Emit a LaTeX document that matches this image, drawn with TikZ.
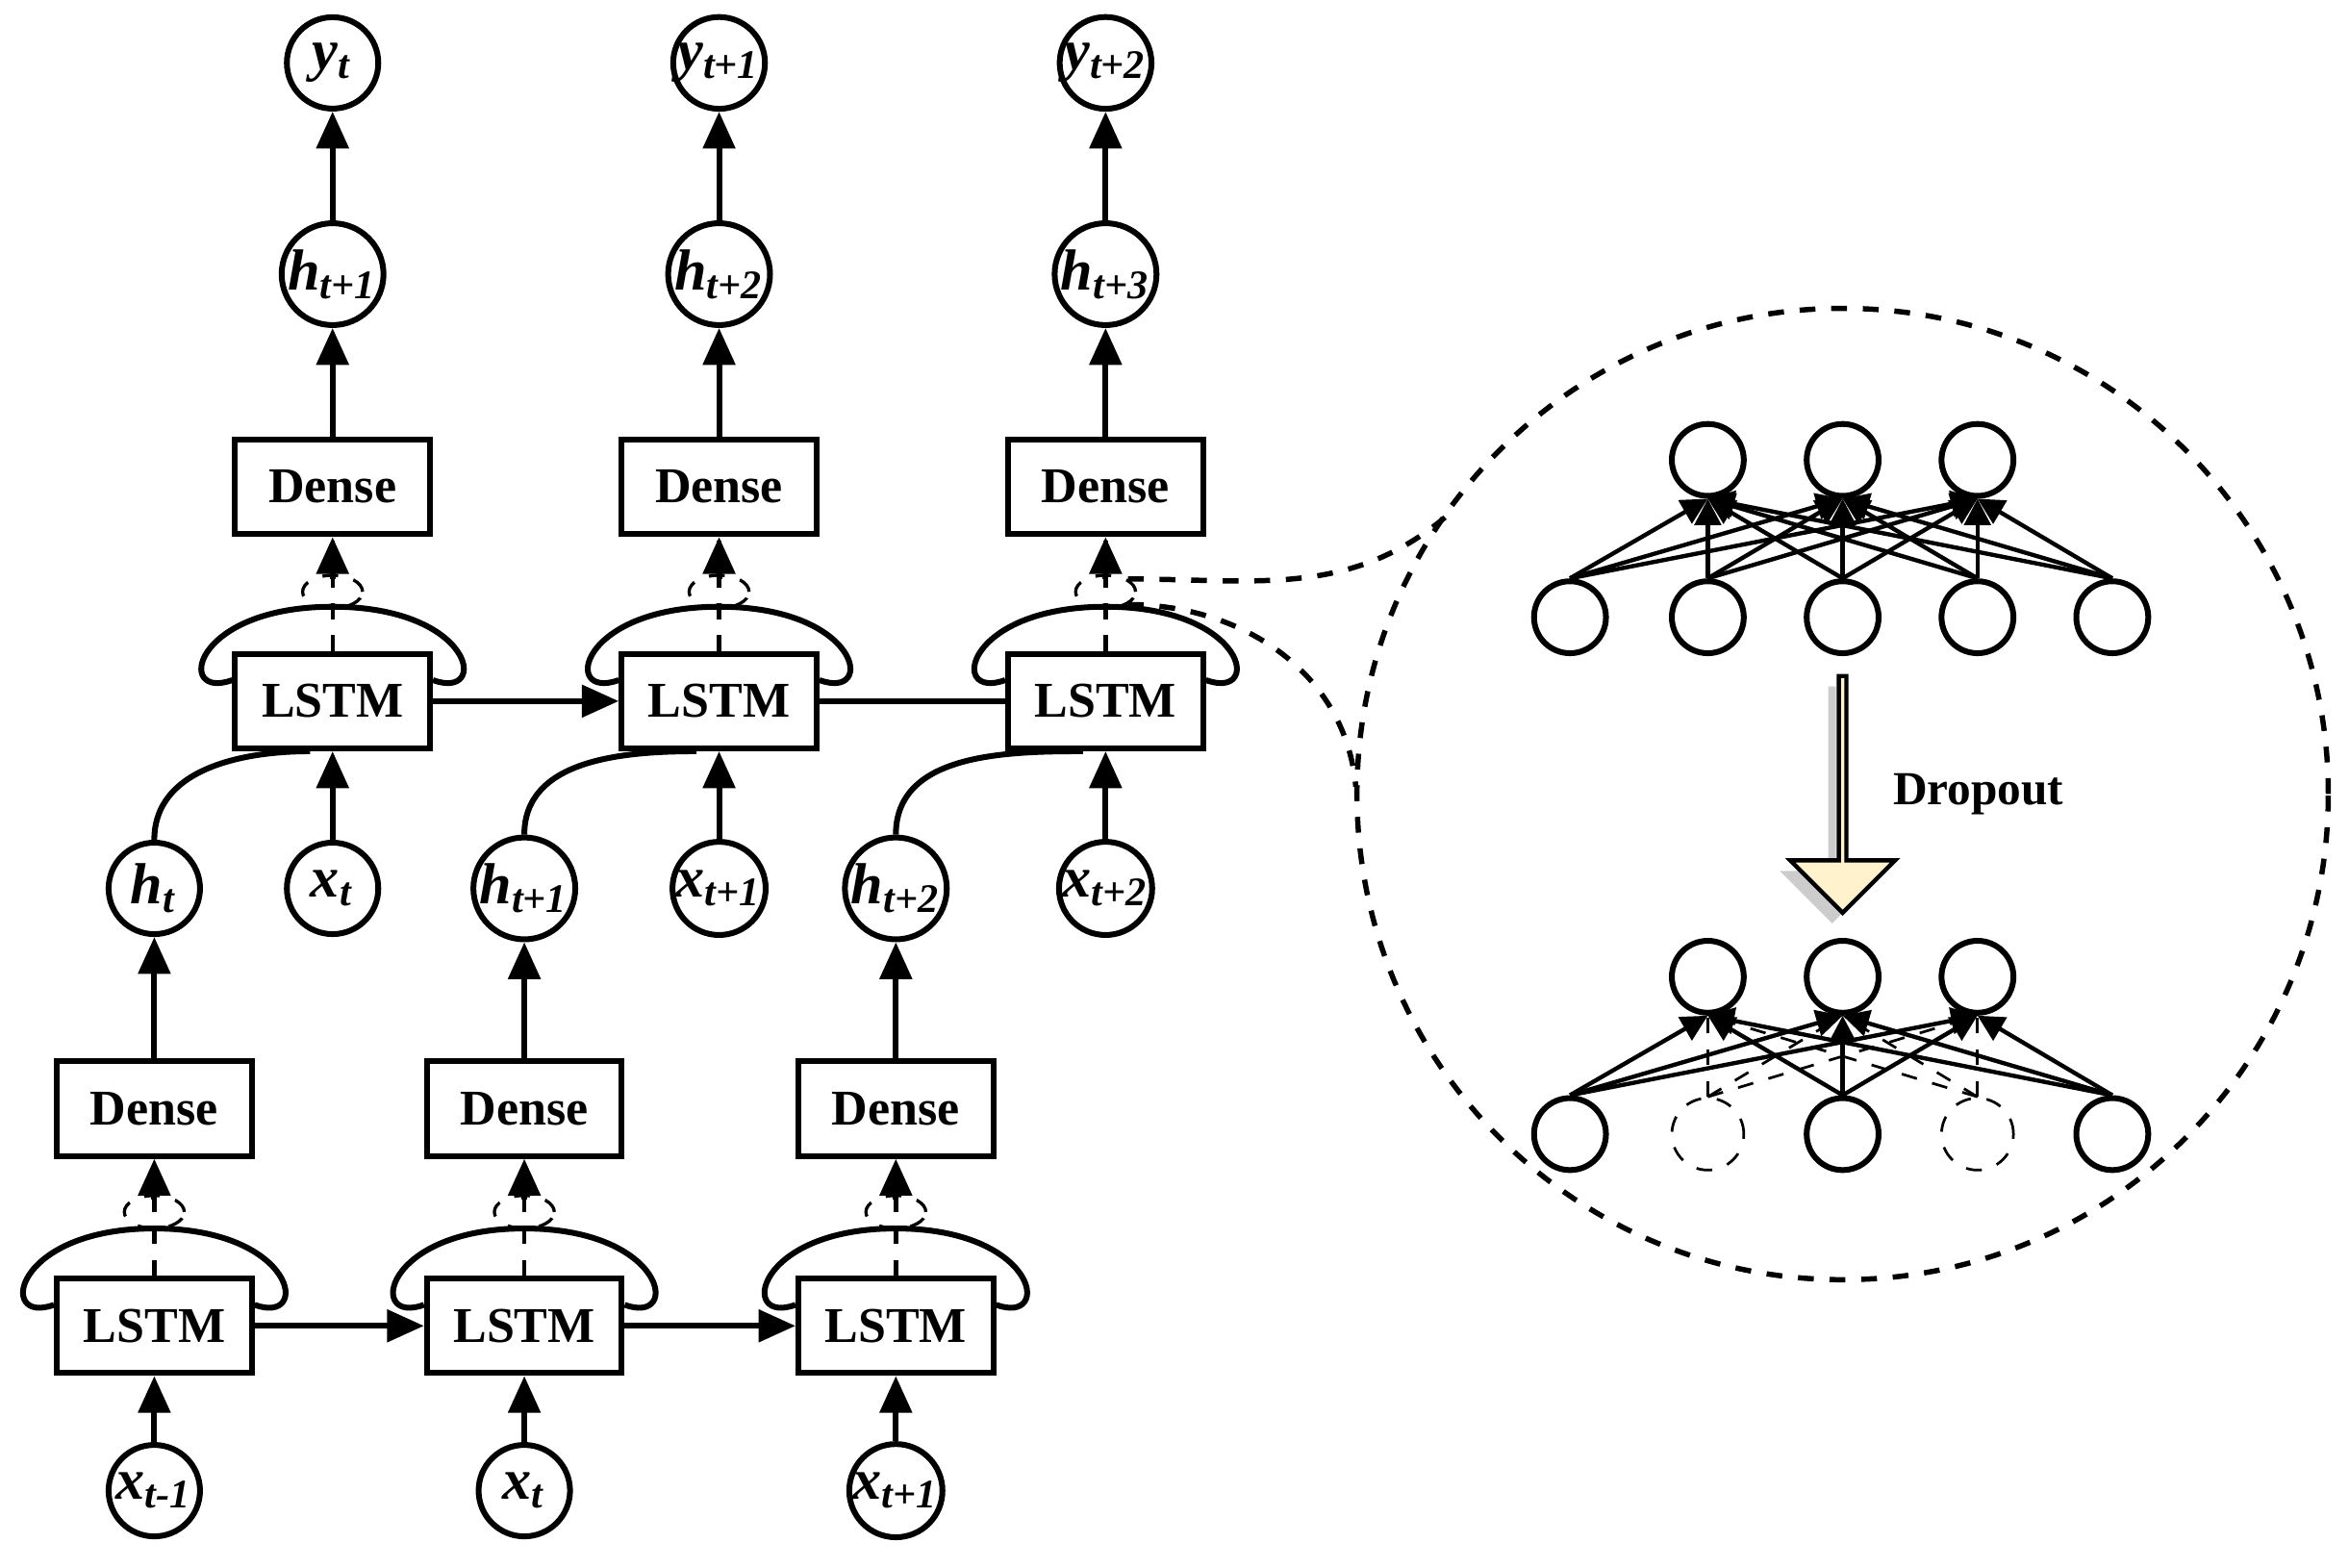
\documentclass[tikz,border=0pt]{standalone}
\usepackage{fontspec}
\setmainfont{Liberation Serif}
\usetikzlibrary{arrows.meta,shapes.geometric,shapes.arrows,shadows}
\newcommand{\lab}[2]{\textbf{\textit{#1}\textsubscript{\textit{#2}}}}
\begin{document}
\begin{tikzpicture}[x=0.01cm,y=-0.01cm,
    line width=1.1pt, >={Triangle[length=7pt,width=6pt]},
    box/.style={draw, minimum width=1.3cm, minimum height=0.63cm, font=\bfseries\fontsize{9.5}{10}\selectfont, fill=white},
    var/.style={draw, circle, minimum size=0.61cm, inner sep=0pt, font=\fontsize{11}{12}\selectfont, fill=white},
    drop/.style={draw, dashed, ellipse, line width=0.6pt, minimum width=0.4cm, minimum height=0.22cm, inner sep=0pt},
    unit/.style={draw, circle, minimum size=0.48cm, inner sep=0pt, fill=white},
    ghost/.style={draw, circle, dashed, line width=0.5pt, minimum size=0.48cm, inner sep=0pt}]
\useasboundingbox (0,0) rectangle (1568,1046);
% upper stack
\foreach \i/\x/\hy/\hh/\xx/\yy/\hc in {1/222/t+1/t/t/t/103, 2/480/t+2/t+1/t+1/t+1/350, 3/738/t+3/t+2/t+2/t+2/598} {
    \node[var] (y\i) at (\x,42) {\lab{y}{\yy}};
    \node[var] (ho\i) at (\x,183) {\lab{h}{\hy}};
    \node[box] (du\i) at (\x,325) {Dense};
    \node[drop] (eu\i) at (\x,395) {};
    \node[box] (lu\i) at (\x,468) {LSTM};
    \node[var] (hm\i) at (\hc,593) {\lab{h}{\hh}};
    \node[var] (xm\i) at (\x,593) {\lab{x}{\xx}};
    \draw[->] (du\i) -- (ho\i);
    \draw[->] (ho\i) -- (y\i);
    \draw[dashed, line width=0.8pt] (lu\i.north) -- (du\i.south);
    \draw[->] ([yshift=-1pt]eu\i.north) -- (du\i.south);
    \draw ([yshift=4pt]lu\i.west) .. controls (\x-105,468) and (\x-95,405) .. (\x,405)
        .. controls (\x+95,405) and (\x+105,468) .. ([yshift=4pt]lu\i.east);
    \draw[->] (xm\i) -- (lu\i);
    \draw (hm\i.north) to[out=90,in=180] ([xshift=-0.15cm]lu\i.south);
}
% lower stack
\foreach \i/\x/\xl in {1/103/t-1, 2/350/t, 3/598/t+1} {
    \node[box] (dl\i) at (\x,740) {Dense};
    \node[drop] (el\i) at (\x,809) {};
    \node[box] (ll\i) at (\x,885) {LSTM};
    \node[var] (xl\i) at (\x,995) {\lab{x}{\xl}};
    \draw[->] (dl\i) -- (hm\i);
    \draw[dashed, line width=0.8pt] (ll\i.north) -- (dl\i.south);
    \draw[->] ([yshift=-1pt]el\i.north) -- (dl\i.south);
    \draw ([yshift=4pt]ll\i.west) .. controls (\x-105,885) and (\x-95,820) .. (\x,820)
        .. controls (\x+95,820) and (\x+105,885) .. ([yshift=4pt]ll\i.east);
    \draw[->] (xl\i) -- (ll\i);
}
\draw[->] (lu1) -- (lu2);
\draw (lu2) -- (lu3);
\draw[->] (ll1) -- (ll2);
\draw[->] (ll2) -- (ll3);
% zoom circle
\draw[dashed, line width=1pt] (1230,530) circle (3.24cm);
\coordinate (za) at (965,345);
\coordinate (zb) at (905,525);
\draw[dashed, line width=1pt] (eu3.north east) to[out=0,in=220] (za);
\draw[dashed, line width=1pt] (eu3.south east) to[out=0,in=95] (zb);
% networks
\foreach \j/\x in {1/1140, 2/1230, 3/1320} {
    \node[unit] (a\j) at (\x,307) {};
    \node[unit] (c\j) at (\x,652) {};
}
\foreach \k/\x in {1/1048, 2/1140, 3/1230, 4/1320, 5/1410} {
    \node[unit] (b\k) at (\x,412) {};
}
\foreach \k/\x in {1/1048, 3/1230, 5/1410} {
    \node[unit] (d\k) at (\x,757) {};
}
\node[ghost] (d2) at (1140,757) {};
\node[ghost] (d4) at (1320,757) {};
\foreach \j in {1,2,3} {
    \foreach \k in {1,...,5} {
        \draw[->, line width=0.8pt, >={Triangle[length=5pt,width=5pt]}] (b\k.north) -- (a\j.south);
    }
    \foreach \k in {1,3,5} {
        \draw[->, line width=0.8pt, >={Triangle[length=5pt,width=5pt]}] (d\k.north) -- (c\j.south);
    }
    \foreach \k in {2,4} {
        \draw[dashed, line width=0.5pt] (d\k.north) -- (c\j.south);
    }
}
\node[single arrow, draw, fill={rgb,255:red,255;green,242;blue,204}, shape border rotate=270,
      minimum width=0.7cm, single arrow head extend=0.18cm, single arrow tip angle=90,
      minimum height=1.58cm, inner sep=0pt, line width=0.8pt,
      drop shadow={shadow xshift=-2pt, shadow yshift=-2pt, opacity=0.4}] (dr) at (1230,529) {};
\node[font=\bfseries\fontsize{9}{10}\selectfont, right=0pt] (dt) at (1250,530) {Dropout};
\end{tikzpicture}
\end{document}
